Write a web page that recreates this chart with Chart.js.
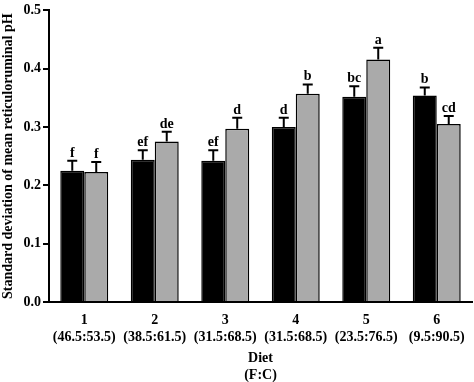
<!DOCTYPE html>
<html>
<head>
<meta charset="utf-8">
<script src="https://cdn.jsdelivr.net/npm/chart.js@4"></script>
<style>
html,body{margin:0;padding:0;background:#fff;}
#wrap{width:474px;height:382px;}
</style>
</head>
<body>
<div id="wrap"><canvas id="c" width="474" height="382"></canvas></div>
<script>
const dietNumbers = ['1','2','3','4','5','6'];
const dietRatios = ['(46.5:53.5)','(38.5:61.5)','(31.5:68.5)','(31.5:68.5)','(23.5:76.5)','(9.5:90.5)'];
const seriesBlack = [0.225, 0.244, 0.242, 0.300, 0.352, 0.354];
const seriesGray  = [0.223, 0.275, 0.297, 0.357, 0.416, 0.305];
const errBlack = [0.017, 0.016, 0.018, 0.016, 0.018, 0.014];
const errGray  = [0.017, 0.017, 0.019, 0.016, 0.020, 0.014];
const lettersBlack = ['f','ef','ef','d','bc','b'];
const lettersGray  = ['f','de','d','b','a','cd'];
const yTicks = [0.0, 0.1, 0.2, 0.3, 0.4, 0.5];

const FONT = '"Liberation Serif", "Times New Roman", serif';

const errPlugin = {
  id: 'errbars',
  afterDatasetsDraw(chart) {
    const ctx = chart.ctx;
    const ys = chart.scales.y;
    const errs = [errBlack, errGray];
    const letters = [lettersBlack, lettersGray];
    chart.data.datasets.forEach((ds, di) => {
      const meta = chart.getDatasetMeta(di);
      meta.data.forEach((bar, i) => {
        const v = ds.data[i];
        const top = ys.getPixelForValue(v + errs[di][i]);
        const base = ys.getPixelForValue(v);
        ctx.save();
        ctx.strokeStyle = '#000';
        ctx.lineWidth = 2;
        ctx.beginPath();
        ctx.moveTo(bar.x, base);
        ctx.lineTo(bar.x, top);
        ctx.moveTo(bar.x - 5, top);
        ctx.lineTo(bar.x + 5, top);
        ctx.stroke();
        ctx.fillStyle = '#000';
        ctx.font = 'bold 14px ' + FONT;
        ctx.textAlign = 'center';
        ctx.textBaseline = 'alphabetic';
        ctx.fillText(letters[di][i], bar.x, top - 4);
        ctx.restore();
      });
    });
  }
};

new Chart(document.getElementById('c'), {
  type: 'bar',
  data: {
    labels: dietNumbers.map((n, i) => [n, dietRatios[i]]),
    datasets: [
      { data: seriesBlack, backgroundColor: '#000', borderColor: '#000', borderWidth: 1.5 },
      { data: seriesGray, backgroundColor: '#aaaaaa', borderColor: '#000', borderWidth: 1.5 }
    ]
  },
  options: {
    responsive: false,
    animation: false,
    devicePixelRatio: 1,
    layout: { padding: { top: 5, right: 2, bottom: 0, left: 0 } },
    plugins: { legend: { display: false }, tooltip: { enabled: false } },
    datasets: { bar: { categoryPercentage: 0.68, barPercentage: 1.0 } },
    scales: {
      x: {
        afterFit(scale) { scale.height = 80; },
        grid: { display: false },
        border: { color: '#000', width: 2 },
        ticks: { color: '#000', font: { family: FONT, size: 14, weight: 'bold' }, padding: 2, maxRotation: 0, autoSkip: false },
        title: { display: true, text: ['Diet', '(F:C)'], color: '#000', font: { family: FONT, size: 14, weight: 'bold' }, padding: { top: 0, bottom: -2 } }
      },
      y: {
        min: 0, max: 0.5,
        afterBuildTicks(scale) { scale.ticks = yTicks.map(v => ({ value: v })); },
        afterFit(scale) { scale.width = 49; },
        grid: { drawOnChartArea: false, tickLength: 6, color: '#000', lineWidth: 2 },
        border: { color: '#000', width: 2 },
        ticks: { color: '#000', font: { family: FONT, size: 14, weight: 'bold' }, padding: 2, callback: v => v.toFixed(1) },
        title: { display: true, text: 'Standard deviation of mean reticuloruminal pH', color: '#000', font: { family: FONT, size: 14, weight: 'bold' }, padding: { top: 0, bottom: 2 } }
      }
    }
  },
  plugins: [errPlugin]
});
</script>
</body>
</html>
